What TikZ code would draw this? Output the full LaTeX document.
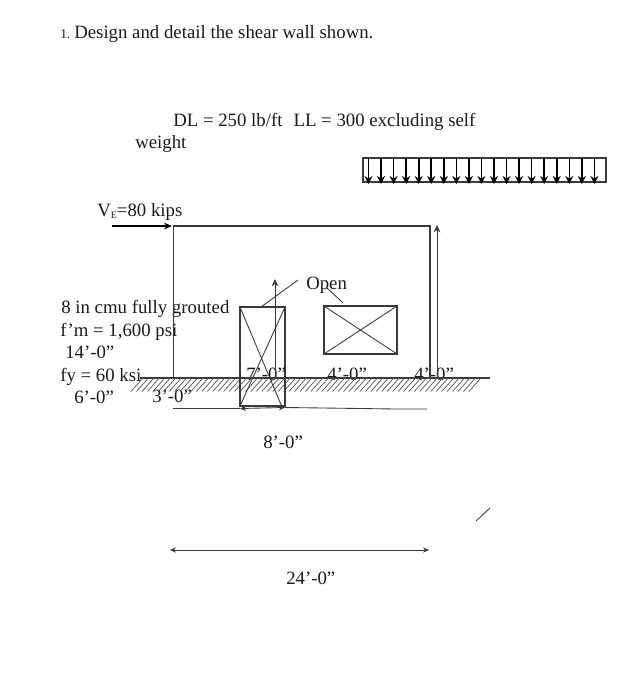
\documentclass[tikz,border=0pt]{standalone}
\usepackage{fontspec}
\setmainfont{Liberation Serif}
\usetikzlibrary{arrows.meta}
\definecolor{ink}{HTML}{3A3A3A}
\definecolor{txt}{HTML}{1A1A1A}
\tikzset{
  lab/.style={anchor=base west,inner sep=0pt,text=txt,font=\fontsize{14.1pt}{16pt}\selectfont},
  ln/.style={draw=ink,line width=0.8pt},
  thin ln/.style={draw=ink,line width=0.65pt},
  boxr/.style={draw=ink,line width=0.95pt},
  tipd/.style={-{Stealth[length=5.5pt,width=5pt]}},
  dim/.style={{Stealth[length=4.5pt,width=4pt]}-{Stealth[length=4.5pt,width=4pt]},thin ln},
}
\begin{document}
\begin{tikzpicture}[x=0.75pt,y=-0.75pt]
\useasboundingbox (0,0) rectangle (636,700);
% texts
\node[lab,font=\fontsize{10pt}{12pt}\selectfont] (n1) at (60,38) {1.};
\node[lab] (title) at (74,38) {Design and detail the shear wall shown.};
\node[lab] (dl) at (173,126) {DL = 250 lb/ft\,\, LL = 300 excluding self};
\node[lab] (weight) at (135,148) {weight};
\node[lab] (ve) at (97,216) {V\raisebox{-2.2pt}{\fontsize{7.5pt}{9pt}\selectfont E}=80 kips};
\node[lab] (cmu) at (61,313) {8 in cmu fully grouted};
\node[lab] (fm) at (60,336) {f’m = 1,600 psi};
\node[lab] (h14) at (65,358) {14’-0”};
\node[lab] (fy) at (60,381) {fy = 60 ksi};
\node[lab] (s6) at (74,403) {6’-0”};
\node[lab] (s3) at (152,402) {3’-0”};
\node[lab] (s7) at (246,380) {7’-0”};
\node[lab] (s4a) at (327,380) {4’-0”};
\node[lab] (s4b) at (414,380) {4’-0”};
\node[lab] (open) at (306,289) {Open};
\node[lab] (s8) at (263,448) {8’-0”};
\node[lab] (s24) at (286,584) {24’-0”};
% coordinates
\coordinate (wTL) at (173.5,226);
\coordinate (wTR) at (430,226);
\coordinate (wBL) at (173.5,378);
\coordinate (wBR) at (430,378);
\coordinate (dTL) at (240,307);
\coordinate (dTR) at (285,307);
\coordinate (dBL) at (240,406);
\coordinate (dBR) at (285,406);
\coordinate (oTL) at (324,306);
\coordinate (oTR) at (397,306);
\coordinate (oBL) at (324,354);
\coordinate (oBR) at (397,354);
% wall
\draw[boxr] (wBL) -- (wTL) -- (wTR) -- (wBR);
% ground
\coordinate (gL) at (140,378);
\coordinate (gR) at (490,378);
\draw[ln] (gL) -- (gR);
\foreach \x in {0,...,62} {
  \draw[draw=ink!85,line width=0.55pt] ({143+\x*5.45},378) -- ({131+\x*5.45},391.5);
}
% door
\draw[boxr] (dTL) rectangle (dBR);
\draw[thin ln] (dTL) -- (282,407);
\draw[thin ln] (dBL) -- (dTR);
% window
\draw[boxr] (oTL) rectangle (oBR);
\draw[thin ln] (oTL) -- (oBR);
\draw[thin ln] (oBL) -- (oTR);
% VE arrow
\coordinate (veS) at (112,226);
\coordinate (veE) at (172,226);
\draw[line width=1.5pt,draw=black,-{Stealth[length=6pt,width=5pt]}] (veS) -- (veE);
% dimension arrows
\coordinate (a1) at (437,378); \coordinate (a1t) at (437,225);
\draw[thin ln,tipd] (a1) -- (a1t);
\coordinate (a2) at (275,378); \coordinate (a2t) at (275,279);
\draw[thin ln,tipd] (a2) -- (a2t);
% leaders
\coordinate (l1a) at (298,280); \coordinate (l1b) at (261,307);
\draw[thin ln] (l1a) -- (l1b);
\coordinate (l2a) at (327,288); \coordinate (l2b) at (343,303);
\draw[thin ln] (l2a) -- (l2b);
% lower line
\coordinate (b1) at (173,408.5); \coordinate (b2) at (240,408.5);
\coordinate (b3) at (285,407.5); \coordinate (b4) at (323,408);
\coordinate (b5) at (396,409); \coordinate (b6) at (427,409);
\draw[thin ln] (b1) -- (b2);
\draw[dim] (b2) -- (b3);
\draw[thin ln] (b3) -- (b4) -- (b5) -- (b6);
% 24 ft dim
\coordinate (c1) at (170,550); \coordinate (c2) at (429,550);
\draw[dim] (c1) -- (c2);
% stray tick
\coordinate (t1) at (490,508); \coordinate (t2) at (476,521);
\draw[thin ln] (t1) -- (t2);
% load
\coordinate (q1) at (363,158); \coordinate (q2) at (606,158);
\coordinate (q3) at (363,182); \coordinate (q4) at (606,182);
\draw[ln] (q3) -- (q1) -- (q2) -- (q4) -- cycle;
\foreach \i in {0,...,18} {
  \draw[draw=black,line width=1.2pt,-{Stealth[length=6pt,width=6pt]}] ({368.5+\i*12.55},158) -- ({368.5+\i*12.55},184);
}
\end{tikzpicture}
\end{document}
